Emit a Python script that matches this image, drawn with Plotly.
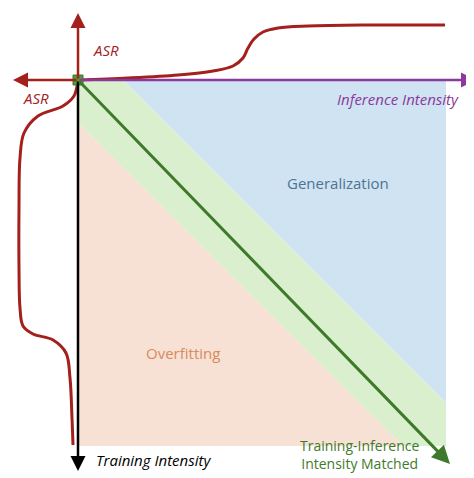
import plotly.graph_objects as go

# diagram in pixel space (origin of the axes at ORIGIN)
ORIGIN = (70, 72)
blue_x = [115, 438, 438]
blue_y = [72, 72, 395]
band_x = [70, 115, 438, 438, 395, 70]
band_y = [72, 72, 395, 438, 438, 115]
peach_x = [70, 395, 70]
peach_y = [115, 438, 438]

top_asr_x = [70, 120, 170, 205, 225, 235, 240, 246, 255, 270, 300, 360, 437]
top_asr_y = [72, 70, 67, 63, 58, 50, 40, 31, 24, 20, 18, 17, 17]
left_asr_x = [70, 66, 55, 30, 16, 12, 11, 11, 12, 15, 25, 45, 58, 62, 64, 65]
left_asr_y = [72, 88, 98, 108, 125, 150, 200, 260, 300, 318, 326, 332, 345, 370, 410, 437]

DARK_RED = "#a3201d"
PURPLE = "#8b3a9c"
GREEN = "#3f7a2c"

fig = go.Figure()
fig.add_trace(go.Scatter(x=blue_x, y=blue_y, fill="toself", fillcolor="#cfe3f3",
                         line=dict(width=0), mode="lines"))
fig.add_trace(go.Scatter(x=band_x, y=band_y, fill="toself", fillcolor="#d9efcd",
                         line=dict(width=0), mode="lines"))
fig.add_trace(go.Scatter(x=peach_x, y=peach_y, fill="toself", fillcolor="#f6e1d4",
                         line=dict(width=0), mode="lines"))
fig.add_trace(go.Scatter(x=top_asr_x, y=top_asr_y, mode="lines",
                         line=dict(color=DARK_RED, width=3, shape="spline")))
fig.add_trace(go.Scatter(x=left_asr_x, y=left_asr_y, mode="lines",
                         line=dict(color=DARK_RED, width=3, shape="spline")))


def arrow(x0, y0, x1, y1, color, width=2.5):
    fig.add_annotation(x=x1, y=y1, ax=x0, ay=y0, xref="x", yref="y", axref="x", ayref="y",
                       showarrow=True, arrowhead=2, arrowsize=1.2, arrowwidth=width,
                       arrowcolor=color, text="")


ox, oy = ORIGIN
arrow(ox, oy, 468, oy, PURPLE)
arrow(ox, oy, 5, oy, DARK_RED)
arrow(ox, oy, ox, 5, DARK_RED)
arrow(ox, oy, ox, 463, "black")
arrow(ox, oy, 442, 456, GREEN, 3)
fig.add_shape(type="rect", x0=ox - 5, y0=oy - 5, x1=ox + 5, y1=oy + 5,
              fillcolor="#4e9a33", line=dict(color=GREEN, width=1))


def label(x, y, text, color, italic=False, size=15):
    fig.add_annotation(x=x, y=y, text=f"<i>{text}</i>" if italic else text, showarrow=False,
                       font=dict(family="Open Sans, Arial", size=size, color=color))


label(98, 42, "ASR", DARK_RED, True)
label(28, 90, "ASR", DARK_RED, True)
label(390, 91, "Inference Intensity", PURPLE, True)
label(330, 175, "Generalization", "#4d7391")
label(175, 345, "Overfitting", "#d98a5e")
label(145, 452, "Training Intensity", "black", True)
fig.add_annotation(x=352, y=446, text="Training-Inference<br>Intensity Matched", showarrow=False,
                   font=dict(family="Open Sans, Arial", size=14, color=GREEN))

fig.update_layout(width=474, height=478, margin=dict(l=0, r=0, t=0, b=0),
                  plot_bgcolor="white", paper_bgcolor="white", showlegend=False,
                  xaxis=dict(range=[0, 474], visible=False, fixedrange=True),
                  yaxis=dict(range=[478, 0], visible=False, fixedrange=True))
fig.write_html("out.html")
